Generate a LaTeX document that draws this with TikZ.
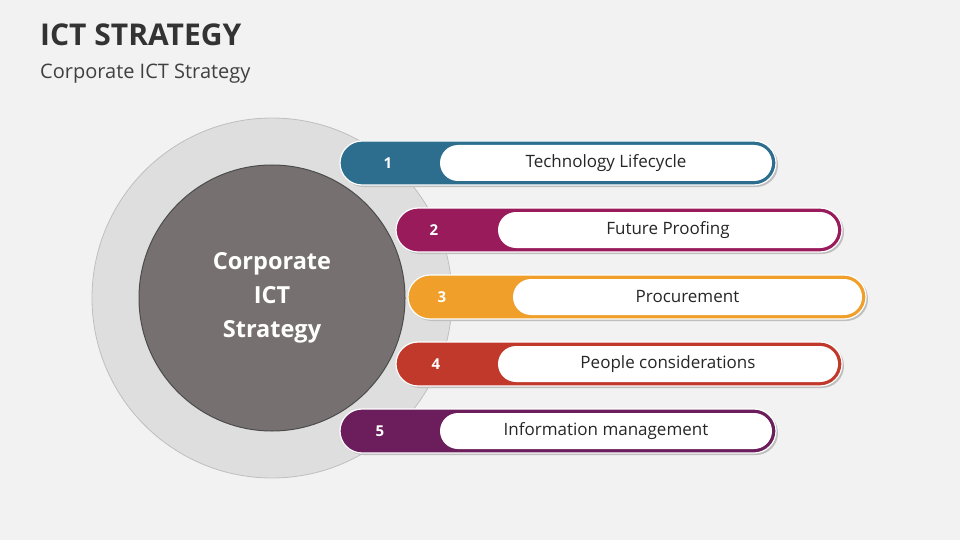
\documentclass[tikz,border=0pt]{standalone}
\usepackage{fontspec}
\setmainfont{Open Sans}
\definecolor{bg}{HTML}{F2F2F2}
\definecolor{cA}{HTML}{2D6E8E}
\definecolor{cB}{HTML}{9A1B5B}
\definecolor{cC}{HTML}{F09F2A}
\definecolor{cD}{HTML}{C0392B}
\definecolor{cE}{HTML}{6B1D5C}
\definecolor{core}{HTML}{767170}
\begin{document}
\begin{tikzpicture}[x=1pt,y=-1pt,
  bar/.style={rounded corners=22pt,draw=white,line width=1.2pt},
  pill/.style={fill=white,rounded corners=18pt},
  num/.style={text=white,font=\bfseries\fontsize{15}{18}\selectfont},
  lbl/.style={text=black!85,font=\fontsize{17}{20}\selectfont}]
\fill[bg] (0,0) rectangle (960,540);
\node[anchor=west,font=\bfseries\fontsize{30}{36}\selectfont,text=black!80,inner sep=0] (title) at (40,35) {ICT STRATEGY};
\node[anchor=west,font=\fontsize{20}{24}\selectfont,text=black!75,inner sep=0] (sub) at (40,74) {Corporate ICT Strategy};
\node[circle,fill=black!13,draw=black!25,line width=0.8pt,minimum size=360pt,inner sep=0] (outer) at (272,298) {};
\node[circle,fill=core,draw=black!70,line width=1pt,minimum size=266pt,inner sep=0,text=white,align=center,font=\bfseries\fontsize{23.5}{34}\selectfont] (core) at (272,298) {Corporate\\ICT\\Strategy};
\foreach \i/\xa/\xb/\xw/\xn/\y/\c/\t in {
 1/340/776/440/388/163/cA/Technology Lifecycle,
 2/396/842/498/434/230/cB/Future Proofing,
 3/408/866/513/442/297/cC/Procurement,
 4/396/842/498/436/364/cD/People considerations,
 5/340/776/440/380/431/cE/Information management}{
 \fill[black!25,rounded corners=22pt] (\xa+2,\y-20) rectangle (\xb+2,\y+24);
 \fill[\c,bar] (\xa,\y-22) rectangle (\xb,\y+22);
 \fill[pill] (\xw,\y-18) rectangle (\xb-4,\y+18);
 \node[num] (n\i) at (\xn,\y) {\i};
 \node[lbl] (t\i) at ({(\xw+\xb)/2-2},\y) {\t};
}
\end{tikzpicture}
\end{document}
